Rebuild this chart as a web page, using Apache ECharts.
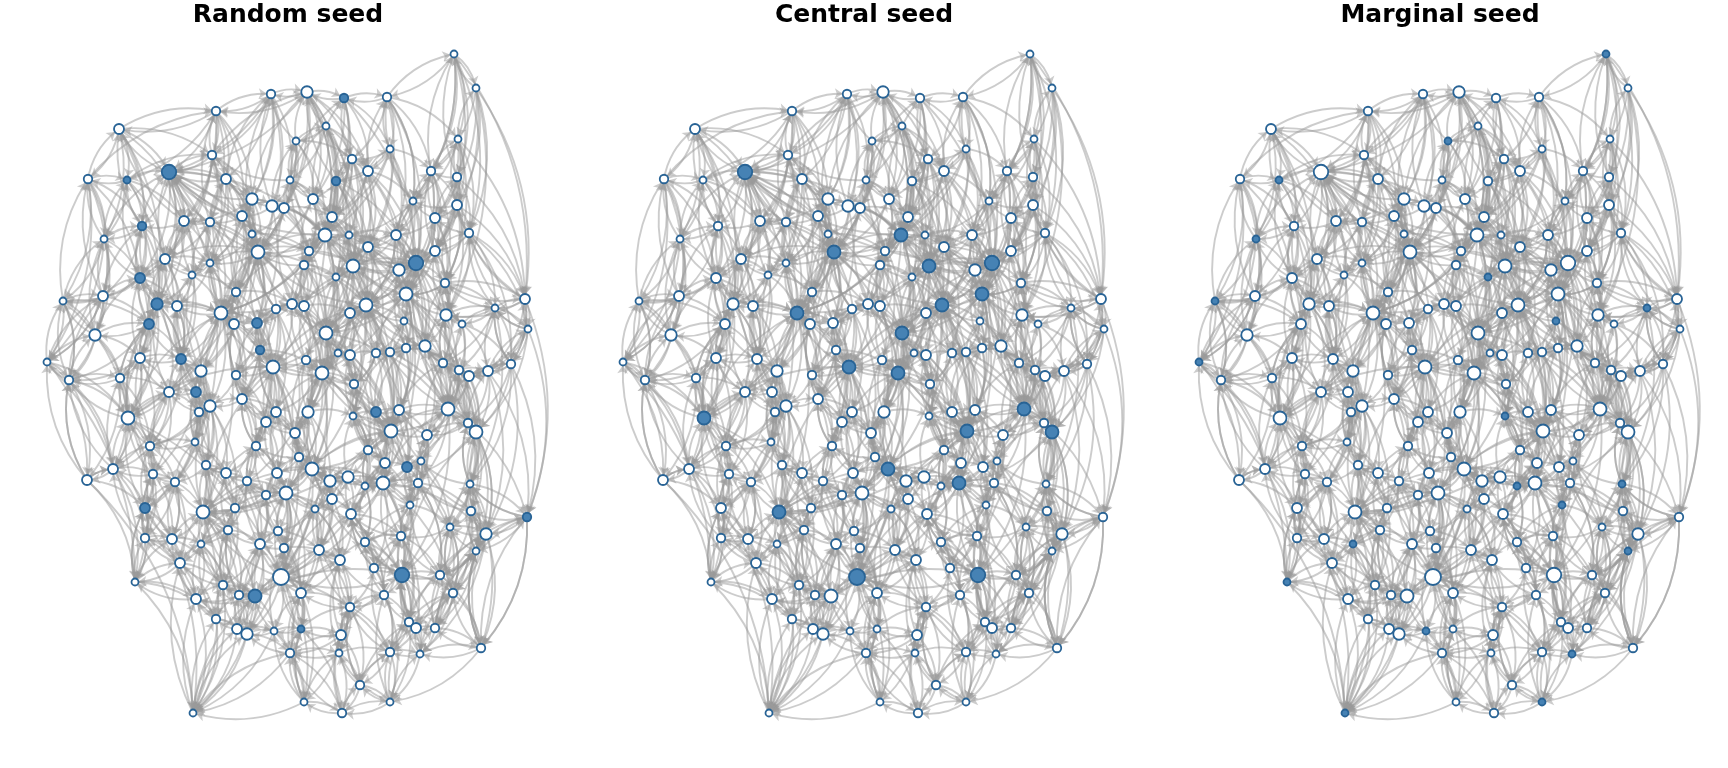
<!DOCTYPE html>
<html>
<head>
<meta charset="utf-8">
<script src="https://cdn.jsdelivr.net/npm/echarts@6/dist/echarts.min.js"></script>
<style>
html,body{margin:0;padding:0;background:#fff;}
#chart{width:1728px;height:768px;}
</style>
</head>
<body>
<div id="chart"></div>
<script>
// ---- data ----
const PANEL_TITLES = ['Random seed', 'Central seed', 'Marginal seed'];

// node layout coordinates (ids 1..200)
const NODE_X = [454,476,307,271,344,387,216,326,119,458,
296,390,212,352,169,368,431,457,88,127,
226,290,336,252,313,413,457,272,284,242,
332,435,184,210,142,469,252,325,349,396,
104,258,309,368,435,165,210,416,353,304,
399,192,336,140,445,236,406,103,525,63,
157,177,292,304,366,495,221,276,350,446,
404,234,257,149,462,528,326,95,425,406,
260,338,350,376,390,47,140,181,306,273,
201,236,443,511,322,459,469,488,69,120,
354,169,196,242,210,199,128,276,308,353,
376,399,448,266,468,476,391,427,295,150,
195,256,368,299,385,421,407,312,113,153,
206,226,277,348,87,175,247,330,365,383,
418,470,286,266,332,315,410,145,235,203,
351,471,527,450,228,278,486,401,145,172,
201,260,284,319,365,476,340,180,374,402,
440,281,135,223,301,453,239,255,384,196,
350,216,409,416,435,301,237,341,247,274,
481,390,290,339,420,360,304,390,342,193];
const NODE_Y = [54,88,92,94,98,97,111,126,129,139,
141,149,155,159,172,171,171,177,179,180,
179,180,181,199,199,201,205,206,208,216,
217,218,221,222,226,233,234,235,235,235,
239,252,251,247,251,259,263,263,266,265,
270,275,277,278,283,292,294,296,299,301,
304,306,304,306,305,308,313,309,313,315,
321,324,323,324,324,329,333,335,346,348,
350,353,355,353,352,362,358,359,360,367,
371,375,363,364,373,370,376,371,380,378,
384,392,392,399,406,412,418,412,412,416,
412,410,409,422,423,432,431,435,433,446,
442,446,450,457,463,461,467,469,469,474,
465,473,473,477,480,482,481,481,486,483,
483,484,493,495,499,509,505,508,508,512,
514,511,517,527,530,531,534,536,538,539,
544,544,548,550,542,551,560,563,568,575,
575,577,582,585,593,593,595,596,595,599,
607,619,622,628,628,629,629,635,634,631,
648,652,653,653,654,685,702,702,713,713];
// degree class of each node (1 = lowest, 7 = highest)
const NODE_DEGREE_CLASS = [1,1,4,2,2,2,2,1,3,1,
1,1,2,2,6,3,2,2,2,1,
3,1,2,4,3,1,3,4,3,3,
3,3,3,2,2,2,1,5,1,3,
1,5,2,3,3,3,1,6,5,2,
4,1,1,3,2,2,5,3,3,1,
4,3,3,3,5,1,5,2,3,4,
1,3,3,3,1,1,5,4,4,2,
2,1,3,2,2,1,3,3,2,5,
4,2,2,2,5,2,3,3,2,2,
2,3,3,3,4,2,5,3,4,1,
3,3,5,3,2,5,5,3,3,2,
1,2,2,2,3,1,3,5,3,2,
2,3,3,4,3,2,2,4,1,5,
2,1,5,2,3,1,1,3,2,5,
3,2,2,1,2,2,4,2,2,3,
1,3,2,3,2,1,3,3,2,6,
2,7,1,2,3,2,2,5,2,3,
2,2,2,3,2,1,3,3,4,1,
2,2,2,1,1,2,1,1,2,1];

const SEEDS_RANDOM   = [5,15,20,23,35,48,54,61,73,74,81,88,103,111,127,148,153,170,178,186];
const SEEDS_CENTRAL  = [15,38,42,48,49,57,65,67,77,90,95,107,113,116,117,128,140,150,170,172];
const SEEDS_MARGINAL = [1,11,20,41,53,60,66,71,86,110,139,142,147,161,166,173,190,195,198,200];

// directed edges [source, target] (near neighbours)
const EDGES = [
[1,6],[1,2],[1,10],[1,18],[2,1],[2,17],[2,27],[3,4],[3,5],[3,23],[3,14],[3,38],
[4,3],[4,28],[4,13],[4,22],[5,3],[5,16],[5,6],[5,31],[6,1],[6,5],[6,12],[6,26],
[7,9],[7,4],[7,21],[7,33],[8,11],[8,3],[8,25],[8,49],[9,19],[9,15],[9,7],[9,20],
[10,2],[10,18],[10,27],[10,32],[11,4],[11,29],[11,38],[11,8],[12,6],[12,16],[12,40],[12,14],
[13,7],[13,21],[13,15],[13,34],[14,5],[14,31],[14,39],[14,16],
[15,9],[15,13],[15,33],[15,35],[15,46],[15,24],[16,12],[16,44],[16,49],[16,26],
[17,10],[17,26],[17,32],[17,48],[18,27],[18,17],[18,36],[18,1],[19,9],[19,41],[19,20],[19,58],
[20,15],[20,35],[20,19],[21,24],[21,30],[21,13],[21,42],[22,11],[22,28],[22,25],[22,38],
[23,3],[23,31],[23,38],[23,14],[24,28],[24,42],[24,21],[24,15],[25,22],[25,38],[25,43],[25,49],
[26,17],[26,40],[26,48],[26,12],[27,18],[27,36],[27,45],[27,32],[28,24],[28,42],[28,29],[28,4],
[29,38],[29,42],[29,22],[30,34],[30,42],[30,37],[30,24],[31,38],[31,23],[31,49],[31,39],
[32,26],[32,48],[32,45],[32,17],[33,15],[33,34],[33,46],[33,52],[34,33],[34,47],[34,21],[34,42],
[35,20],[35,41],[35,46],[35,54],[36,27],[36,45],[36,59],[36,55],[37,42],[37,30],[37,56],
[38,49],[38,43],[38,42],[38,31],[38,22],[39,38],[39,44],[39,49],[40,48],[40,44],[40,26],[40,57],
[41,19],[41,58],[41,35],[42,38],[42,67],[42,47],[42,37],[42,24],[43,38],[43,50],[43,63],[43,42],
[44,49],[44,48],[44,40],[44,65],[45,48],[45,55],[45,36],[45,32],[46,33],[46,52],[46,54],[46,61],
[47,42],[47,52],[47,67],[47,34],[48,57],[48,49],[48,51],[48,45],[48,40],
[49,38],[49,65],[49,48],[49,53],[49,44],[50,43],[50,63],[50,77],[50,53],
[51,57],[51,48],[51,65],[51,40],[52,47],[52,46],[52,62],[52,67],[53,49],[53,77],[53,65],[53,50],
[54,35],[54,61],[54,58],[54,46],[55,45],[55,57],[55,70],[55,48],[56,67],[56,42],[56,72],[56,37],
[57,65],[57,48],[57,51],[57,79],[57,71],[58,41],[58,60],[58,78],[58,54],[59,36],[59,66],[59,76],[59,94],
[60,58],[60,86],[60,78],[61,54],[61,62],[61,74],[61,46],[62,61],[62,67],[62,52],[62,88],
[63,77],[63,64],[63,43],[63,68],[64,77],[64,63],[64,50],[64,89],[65,57],[65,49],[65,69],[65,77],[65,84],
[66,59],[66,70],[66,75],[66,94],[67,42],[67,72],[67,56],[67,91],[67,62],[68,63],[68,73],[68,90],[68,42],
[69,65],[69,77],[69,83],[70,57],[70,75],[70,79],[70,55],[71,57],[71,80],[71,79],
[72,67],[72,73],[72,92],[73,67],[73,68],[73,90],[73,81],[74,61],[74,87],[74,78],[74,54],
[75,70],[75,66],[75,96],[76,59],[76,94],[76,66],[77,65],[77,63],[77,95],[77,69],[77,90],
[78,58],[78,99],[78,74],[78,60],[79,70],[79,57],[79,80],[79,93],[80,79],[80,85],[80,71],
[81,90],[81,73],[81,92],[82,77],[82,95],[82,83],[83,65],[83,82],[83,101],[84,65],[84,85],[84,101],
[85,80],[85,84],[85,117],[86,60],[86,99],[86,135],[87,74],[87,100],[87,88],[87,107],
[88,67],[88,91],[88,87],[88,102],[89,95],[89,77],[89,109],[90,95],[90,81],[90,104],[90,67],
[91,67],[91,105],[91,88],[91,103],[92,90],[92,104],[92,72],[93,79],[93,96],[93,113],
[94,98],[94,76],[94,116],[95,77],[95,90],[95,109],[95,117],[96,93],[96,97],[96,113],
[97,96],[97,98],[97,116],[98,94],[98,97],[98,115],[99,78],[99,86],[99,107],[100,87],[100,107],[100,99],
[101,95],[101,110],[101,83],[102,107],[102,103],[102,88],[103,105],[103,91],[103,102],
[104,105],[104,90],[104,114],[105,91],[105,150],[105,104],[105,103],[106,105],[106,103],[106,121],
[107,100],[107,87],[107,129],[107,102],[108,90],[108,114],[108,119],[109,95],[109,119],[109,128],
[110,101],[110,117],[110,123],[111,117],[111,112],[111,84],[112,113],[112,117],[112,111],
[113,116],[113,93],[113,118],[113,96],[114,108],[114,122],[114,90],[115,116],[115,113],[115,98],
[116,113],[116,142],[116,115],[116,157],[117,113],[117,140],[117,95],[117,110],
[118,113],[118,126],[118,117],[119,128],[119,109],[119,108],[120,107],[120,130],[120,129],
[121,105],[121,131],[121,120],[122,114],[122,137],[122,133],[123,117],[123,139],[123,125],
[124,128],[124,119],[124,133],[125,140],[125,127],[125,117],[126,118],[126,127],[126,141],
[127,140],[127,126],[127,147],[128,138],[128,124],[128,143],[128,117],[129,107],[129,135],[129,120],
[130,136],[130,120],[130,148],[131,150],[131,132],[131,121],[132,150],[132,137],[132,131],
[133,143],[133,128],[133,122],[134,140],[134,138],[134,128],[135,129],[135,86],
[136,150],[136,130],[136,160],[137,143],[137,132],[137,149],[138,128],[138,145],[138,134],
[139,140],[139,123],[139,151],[140,117],[140,170],[140,158],[140,147],[141,140],[141,147],[141,154],
[142,116],[142,152],[142,157],[143,128],[143,172],[143,156],[143,144],[144,143],[144,137],[144,162],
[145,138],[145,146],[145,151],[146,143],[146,164],[146,145],[147,140],[147,158],[147,141],
[148,130],[148,159],[148,173],[149,150],[149,155],[149,137],[150,105],[150,161],[150,172],[150,160],
[151,140],[151,167],[151,165],[152,157],[152,142],[152,154],[153,157],[153,166],[153,191],
[154,157],[154,171],[154,141],[155,150],[155,162],[155,174],[156,172],[156,143],[156,163],
[157,116],[157,166],[157,171],[157,152],[158,170],[158,147],[158,169],[159,148],[159,173],[159,160],
[160,150],[160,168],[160,159],[161,150],[161,168],[161,180],[162,172],[162,155],[162,178],
[163,172],[163,156],[163,175],[164,172],[164,167],[164,146],[165,170],[165,169],[165,151],
[166,157],[166,171],[166,176],[167,172],[167,181],[167,164],[168,150],[168,180],[168,173],
[169,170],[169,179],[169,165],[170,140],[170,183],[170,179],[170,171],[171,170],[171,176],[171,185],
[172,178],[172,175],[172,143],[172,190],[173,159],[173,200],[173,148],[174,178],[174,182],[174,155],
[175,172],[175,186],[175,181],[176,171],[176,191],[176,185],[177,178],[177,187],[177,174],
[178,172],[178,189],[178,187],[178,200],[179,170],[179,192],[179,181],[180,182],[180,200],[180,168],
[181,188],[181,179],[181,194],[182,200],[182,187],[182,174],[183,170],[183,184],[183,195],
[184,183],[184,195],[184,185],[185,191],[185,176],[185,184],[186,193],[186,172],[186,190],
[187,189],[187,200],[187,182],[188,194],[188,196],[188,186],[189,178],[189,190],[189,200],
[190,193],[190,189],[190,197],[191,185],[191,153],[191,195],[192,198],[192,195],[192,183],
[193,197],[193,186],[193,199],[194,199],[194,196],[194,193],[195,198],[195,192],
[196,199],[196,198],[197,199],[197,193],[198,196],[198,192],[199,197],[199,196],[200,182],[200,178]
];

// further out-links of node i (index = id-1), medium range
const ADJ_MID = [
[17,26],[32,45],[15,31,25],[15,24,21],[23,38,25],[14,26,40],[13,24,34],[14,22,31],[35,33],[26,45],
[25,42,14],[23,31,44],[24,42,33],[25,38,40],[42,54,61,21],[38,23,31],[40,55,27],[45,32],[35,54],[33,46],
[37,47,15],[42,31,13],[44,39,43],[38,47,33],[31,43,42],[44,51,39],[48,55,26],[38,43,30],[31,43,37],[47,56,15],
[43,50,44],[40,55,57],[42,47,54],[15,46,56],[15,58,61],[48,70,32],[47,43,24],[65,50,44,67],[48,40,53],[49,65,51],
[54,15,60],[56,43,63,73],[49,64,39],[57,51,53],[57,51,70],[42,47,62],[56,33,62],[65,55,44,79],[77,57,51,39],[42,64,38],
[49,44,71],[33,56,61],[44,63,69],[41,74,62],[59,66,57],[73,47,63],[49,70,80,44],[35,74,86],[55,70],[41,74,99],
[67,87,88],[46,72,54],[73,42,90],[69,53,43],[48,77,80,71],[76,93,55],[73,88,102,47],[42,77,81],[49,82,84],[48,93,66],
[65,84,85],[56,91,81],[63,92,104],[46,100,88],[55,93,94],[66,98],[49,53,82,101],[54,100,87],[48,65,113],[65,84,112],
[68,104,95],[65,89,101],[77,84,110],[57,101,111],[65,79,112],[78,107],[61,102,99],[62,103,74],[64,90,101],[73,68,108,92],
[62,102,106],[73,81,105],[70,97,79],[66,97,115],[89,82,101,108],[70,98,115],[93,94,118],[76,96],[60,100,129],[74,102,120],
[65,110,111],[87,106,120],[88,106,121],[92,108,122],[67,106,131],[102,120,131],[74,120,99,130],[95,81,124],[89,110,124],[83,111,123],
[85,101,125],[80,118,126],[79,97,115,112],[104,119,133],[97,118,142],[96,97,152],[101,111,123,112],[112,141,115],[95,114,124],[102,121,136],
[103,106,132],[104,108,132],[110,125,134],[109,122,138],[111,123,139],[113,141,115],[112,117,141],[109,134,145,119],[99,130,148],[107,129,159],
[106,136,149],[122,131,155],[114,144,124],[123,139,145],[99,148,129],[121,148,160],[122,144,155],[119,134,146],[125,134,165],[125,139,141,151],
[126,152,158],[115,126,154],[133,137,146,163],[133,149,156],[134,164,128],[138,156,167],[127,154,165],[136,160,107],[132,144,161],[131,136,155,168],
[134,158,169],[141,171,166],[152,142],[142,158,176],[132,149,161],[144,162,164],[142,154,176],[141,151,171],[136,168,130],[148,161,136],
[149,155,174],[144,156,174],[146,162,167],[145,151,175],[147,151,158],[152,154,171],[151,165,175],[159,161,182],[158,151,181],[158,165,176,183],
[154,158,184],[163,162,164,177],[168,180,160],[161,168,177],[163,167,186],[166,154,183],[162,155,180],[162,174,177,190],[165,167,183],[161,174,173],
[167,175,192],[177,180,189],[176,179,192],[176,170,192],[166,171,195],[175,181,188],[177,178,190],[181,179,193],[177,187,193],[175,178,186],
[176,157,166],[181,184,196],[188,189,194],[181,188,192],[184,185,191],[181,192,194],[190,194,186],[183,194,195],[188,193,198],[187,180,189]
];

// long-range links [source, target]
const EDGES_LONG = [
[1,36],[1,26],[2,59],[3,7],[3,49],[4,42],[5,48],[6,44],[7,30],[8,53],[9,54],[10,55],[12,57],[13,47],[14,65],
[16,48],[17,57],[18,59],[19,60],[20,61],[21,67],[22,63],[23,65],[24,67],[25,77],[26,57],[27,70],[28,73],[29,77],[30,72],
[31,69],[32,70],[33,61],[34,67],[35,87],[36,66],[37,73],[38,90],[39,65],[40,79],[41,78],[42,91],[43,89],[44,84],[45,79],
[46,88],[47,91],[48,113],[49,101],[50,95],[51,80],[52,88],[53,95],[54,87],[55,93],[56,92],[57,117],[58,99],[59,94],[61,102],
[62,91],[63,95],[64,109],[65,117],[66,96],[67,104],[68,108],[69,110],[70,113],[71,112],[72,104],[73,114],[74,107],[75,113],[76,97],
[77,119],[78,107],[79,118],[80,117],[82,109],[83,123],[84,117],[85,127],[87,120],[88,121],[89,119],[90,133],[91,131],[92,122],[93,116],
[94,142],[95,128],[96,126],[97,142],[98,116],[100,129],[101,123],[102,130],[103,131],[104,137],[105,132],[106,136],[107,148],[108,133],[109,138],
[110,139],[111,140],[112,127],[113,141],[114,144],[115,152],[116,154],[117,139],[118,147],[119,143],[120,148],[121,150],[122,143],[123,151],[124,145],
[125,147],[126,154],[127,158],[128,164],[129,159],[130,160],[131,161],[132,162],[133,163],[134,151],[136,168],[137,162],[138,164],[139,165],[140,176],
[141,171],[142,166],[143,175],[144,177],[145,167],[146,175],[147,170],[148,168],[149,174],[150,177],[151,179],[152,176],[154,185],[155,180],[156,186],
[157,191],[158,184],[159,180],[160,174],[161,187],[162,189],[163,186],[164,188],[165,183],[167,194],[169,192],[170,195],[171,191],[172,193],[174,200],
[175,197],[176,195],[177,189],[179,198],[181,196],[183,198],[186,199],[188,197],[190,200],
[15,88],[15,105],[42,104],[38,95],[48,117],[49,90],[57,140],[65,128],[67,150],[77,117],[90,150],[95,172],[107,173],[113,170],[116,157],
[117,172],[128,178],[140,183],[143,189],[150,200],[170,192],[172,197],[3,38],[6,48],[1,45],[2,70],[9,61],[19,78],[41,86],[60,107],
[86,173],[99,135],[135,200],[129,173],[148,200],[153,191],[76,116],[59,98],[36,94],[66,142],[94,153],[98,157],[116,166],[142,191],[152,185],
[157,195],[166,185],[191,198],[198,199],[197,200],[193,200],[196,183],[195,170],[184,170],[183,157],[171,153],[176,153],[185,157],[12,38],[14,49],
[16,57],[26,65],[17,45],[10,36],[18,55],[27,59],[32,57],[40,65],[44,77],[39,77],[31,53],[23,49],[8,38],[11,42],[4,30],
[7,46],[13,46],[21,52],[24,56],[30,67],[37,67],[34,52],[33,35],[20,41],[54,60],[58,86],[61,107],[62,88],[74,99],[87,129],
[100,135],[102,129],[88,120],[91,130],[103,136],[105,149],[92,114],[81,108],[73,122],[68,119],[63,109],[64,95],[69,95],[82,117],[83,117],
[84,127],[85,113],[80,96],[71,93],[79,115],[93,115],[96,116],[97,113],[75,98],
[15,67],[42,90],[38,77],[49,117],[57,113],[65,140],[67,105],[77,128],[90,143],[95,140],
[107,150],[117,170],[128,172],[140,157],[150,178],[172,192],[113,153],[59,153],[76,153],[94,157],
[36,76],[1,59],[2,36],[10,59],[19,86],[60,99],[86,129],[135,173],[173,182],[200,193],
[199,192],[197,186],[191,166],[166,153],[9,41],[7,15],[3,42],[6,17],[14,44],[23,48],
[31,65],[43,67],[48,70],[49,95],[57,96],[65,110],[67,107],[77,109],[90,122],[95,123],
[105,136],[117,127],[128,151],[140,169],[143,163],[150,174],[170,185],[172,189],[178,180],[42,15],
[38,15],[48,15],[113,48],[116,70],[107,61],[61,88],[88,105],[91,121],[105,120],[121,148],
[136,159],[168,174],[161,182],[155,177],[162,177],[156,175],[146,167],[164,181],[165,179],[158,183],
[141,171],[154,176],[152,166],[142,153],[98,153]
];

// crossing links between hubs and upward links [source, target]
const EDGES_CROSS = [
[15,77],[15,90],[15,38],[42,65],[42,95],[42,107],[38,57],[38,67],[38,117],[48,38],[48,65],[48,95],[49,67],[49,113],
[57,38],[57,77],[57,116],[65,42],[65,113],[65,95],[67,38],[67,90],[67,128],[77,48],[77,113],[77,143],[90,65],[90,117],
[90,172],[95,57],[95,150],[95,143],[107,67],[107,90],[107,172],[113,65],[113,140],[113,117],[116,48],[116,140],[116,170],
[117,77],[117,128],[117,150],[128,95],[128,140],[128,150],[140,113],[140,128],[140,172],[143,117],[143,150],[143,170],
[150,90],[150,128],[150,143],[170,128],[170,116],[170,172],[172,140],[172,150],[172,117],[178,143],[178,150],[178,170],
[3,16],[3,29],[4,7],[5,12],[6,10],[7,20],[8,16],[9,13],[10,17],[11,3],[12,17],[13,3],[14,8],[16,6],[17,1],[18,10],[19,7],[20,13],[21,4],[22,5],
[24,3],[25,5],[26,6],[27,10],[28,11],[29,8],[30,13],[31,14],[32,18],[33,9],[34,7],[35,9],[36,18],[37,4],[39,14],[40,16],[41,20],[43,11],[44,16],[45,17],
[46,15],[47,21],[50,25],[51,26],[52,34],[53,31],[54,20],[55,27],[56,30],[58,19],[59,27],[60,19],[61,35],[62,33],[63,29],[64,31],[66,36],[68,37],[69,39],[70,45],
[71,51],[72,47],[73,42],[74,35],[75,55],[76,36],[78,41],[79,55],[80,51],[81,56],[82,64],[83,53],[84,69],[85,71],[86,58],[87,54],[88,46],[89,63],[91,52],[92,56],
[93,70],[94,66],[96,75],[97,79],[98,66],[99,58],[100,74],[101,69],[102,61],[103,62],[104,72],[105,62],[106,88],[108,81],[109,82],[110,85],[111,80],[112,93],[114,92],[115,96],
[118,93],[119,89],[120,87],[121,91],[122,104],[123,101],[124,108],[125,110],[126,112],[127,111],[129,100],[130,102],[131,105],[132,106],[133,108],[134,110],[135,99],[136,120],[137,114],[138,109],
[139,123],[141,118],[142,115],[144,122],[145,124],[146,133],[147,126],[148,120],[149,131],[151,125],[152,126],[153,142],[154,118],[155,131],[156,137],[157,142],[158,125],[159,129],[160,130],[161,136],
[162,137],[163,144],[164,138],[165,139],[166,142],[167,145],[168,148],[169,151],[171,147],[173,148],[174,149],[175,146],[176,154],[177,155],[179,158],[180,160],[181,164],[182,161],[183,171],[184,158],
[185,166],[186,163],[187,174],[188,167],[189,162],[190,163],[191,166],[192,169],[193,175],[194,167],[195,176],[196,181],[197,175],[198,179],[199,181],[200,168]
];

// ---- chart ----
const PANEL_W = 576, PANEL_H = 768;
const DIAM = [0, 7, 8.5, 10, 11.5, 13, 14.5, 16];
const seedSets = [SEEDS_RANDOM, SEEDS_CENTRAL, SEEDS_MARGINAL];

const allEdges = EDGES.slice();
ADJ_MID.forEach((targets, i) => targets.forEach(t => allEdges.push([i + 1, t])));
EDGES_LONG.forEach(e => allEdges.push(e));
EDGES_CROSS.forEach(e => allEdges.push(e));

const grids = [], xAxes = [], yAxes = [], series = [], graphics = [];
for (let p = 0; p < 3; p++) {
  grids.push({left: p * PANEL_W, top: 0, width: PANEL_W, height: PANEL_H, containLabel: false});
  xAxes.push({type: 'value', gridIndex: p, min: 0, max: PANEL_W, show: false});
  yAxes.push({type: 'value', gridIndex: p, min: 0, max: PANEL_H, inverse: true, show: false});
  const seeds = new Set(seedSets[p]);
  const data = NODE_X.map((x, i) => {
    const isSeed = seeds.has(i + 1);
    return {
      name: String(i + 1),
      value: [x, NODE_Y[i]],
      symbolSize: DIAM[NODE_DEGREE_CLASS[i]],
      itemStyle: {
        color: isSeed ? '#4682b4' : '#ffffff',
        borderColor: '#286395',
        borderWidth: 1.8
      }
    };
  });
  const links = allEdges.map(e => ({source: e[0] - 1, target: e[1] - 1}));
  series.push({
    type: 'graph',
    coordinateSystem: 'cartesian2d',
    xAxisIndex: p,
    yAxisIndex: p,
    data: data,
    links: links,
    symbol: 'circle',
    edgeSymbol: ['none', 'arrow'],
    edgeSymbolSize: [0, 8],
    silent: true,
    label: {show: false},
    emphasis: {disabled: true},
    lineStyle: {color: '#9a9a9a', opacity: 0.5, width: 1.9, curveness: 0.2}
  });
  graphics.push({
    type: 'text',
    x: p * PANEL_W + 288,
    y: 15,
    style: {
      text: PANEL_TITLES[p],
      font: 'bold 25px "DejaVu Sans"',
      fill: '#000',
      align: 'center',
      verticalAlign: 'middle'
    }
  });
}

const chart = echarts.init(document.getElementById('chart'), null, {renderer: 'canvas'});
chart.setOption({
  animation: false,
  backgroundColor: '#ffffff',
  grid: grids,
  xAxis: xAxes,
  yAxis: yAxes,
  series: series,
  graphic: graphics
});
</script>
</body>
</html>
